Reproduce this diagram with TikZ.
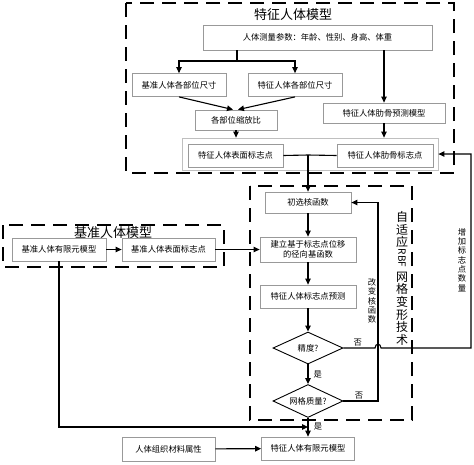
\documentclass[tikz,border=0pt]{standalone}
\usepackage{fontspec}
\setmainfont{Noto Sans CJK SC}
\usetikzlibrary{positioning, shapes.geometric, arrows.meta, calc}
\newcommand{\vtight}{\lineskiplimit=-20pt\relax}

\begin{document}
\begin{tikzpicture}[x=1pt, y=-1pt,
  box/.style={rectangle, draw=black!40, line width=0.8pt, minimum width=94, minimum height=23, inner sep=1pt, font=\fontsize{8.3}{10.5}\selectfont, align=center},
  dia/.style={diamond, draw, line width=0.9pt, aspect=2.1, inner sep=0pt, minimum width=70, minimum height=32, font=\fontsize{8.3}{10}\selectfont},
  arr/.style={-{Triangle[length=6pt, width=5.5pt]}, line width=1.1pt},
  ln/.style={line width=1.1pt},
  frame/.style={line width=1.3pt, dash pattern=on 14pt off 8pt},
  title/.style={font=\fontsize{13}{13}\selectfont},
  lbl/.style={font=\fontsize{8.3}{9}\selectfont, inner sep=1pt},
  vlbl/.style={font=\fontsize{8.3}{9.3}\selectfont\vtight, align=center, inner sep=0pt},
  rbft/.style={font=\fontsize{12}{12.6}\selectfont\vtight, align=center, inner sep=0pt},
]
  \useasboundingbox (0,0) rectangle (474,464);

  % feature body model
  \draw[frame] (126,3) rectangle (454,173);
  \node[title] (tfeat) at (293,15) {特征人体模型};
  \node[box, minimum width=229, minimum height=25] (params) at (317.5,37.5) {人体测量参数：年龄、性别、身高、体重};
  \node[box] (basedim) at (179,85) {基准人体各部位尺寸};
  \node[box] (featdim) at (295,85) {特征人体各部位尺寸};
  \node[box, minimum width=82, minimum height=20] (ratio) at (236,120) {各部位缩放比};
  \node[box, minimum width=122, minimum height=20] (ribpred) at (384,113) {特征人体肋骨预测模型};
  \node[draw=black!25, line width=0.8pt, minimum width=256, minimum height=32, inner sep=0pt] (grp) at (310,154) {};
  \node[box, minimum width=95] (surfland) at (235.5,155.5) {特征人体表面标志点};
  \node[box, minimum width=96] (ribland) at (385,155.5) {特征人体肋骨标志点};

  % base body model
  \draw[frame] (3,225) rectangle (224,267);
  \node[title, inner sep=0pt] (tbase) at (113,233) {基准人体模型};
  \node[box] (femref) at (59,249.5) {基准人体有限元模型};
  \node[box, minimum width=93] (surfref) at (168.5,249.5) {基准人体表面标志点};

  % adaptive RBF
  \draw[frame] (250,186) rectangle (412,420);
  \node[rbft] (trbfa) at (402,229.5) {自\\适\\应};
  \node[inner sep=0pt, font=\fontsize{10}{10}\selectfont] (trbfb) at (402,258) {\rotatebox{-90}{RBF}};
  \node[rbft] (trbfc) at (402,308.5) {网\\格\\变\\形\\技\\术};
  \node[box, minimum width=86, minimum height=21] (choose) at (308,202.5) {初选核函数};
  \node[box, minimum width=96, minimum height=25] (rbf) at (308,249.5) {建立基于标志点位移\\的径向基函数};
  \node[box, minimum width=96] (predict) at (308,296.5) {特征人体标志点预测};
  \node[dia] (acc) at (308,348) {精度?};
  \node[dia, minimum height=33] (mesh) at (308,401) {网格质量?};

  \node[box, minimum width=93] (femfeat) at (308,448.5) {特征人体有限元模型};
  \node[box, minimum width=93, minimum height=24] (material) at (168.5,449) {人体组织材料属性};

  \coordinate (split) at (237,61);
  \coordinate (jn) at (308,155);
  \coordinate (lp) at (378,401);
  \coordinate (hopa) at (375,348);
  \coordinate (hopb) at (381,348);
  \coordinate (rl) at (471,348);
  \coordinate (jb) at (308,427);

  \draw[ln] (params.south -| split) -- (split);
  \draw[arr] (split) -| (basedim.north);
  \draw[arr] (split) -| (featdim.north);
  \draw[arr] (basedim.south) -- ([xshift=-3pt]ratio.north);
  \draw[arr] (featdim.south) -- ([xshift=2pt]ratio.north);
  \draw[arr] (params.south -| ribpred) -- (ribpred.north);
  \draw[arr] (ratio.south) -- (ratio.south |- grp.north);
  \draw[arr] (ribpred.south) -- (ribpred.south |- grp.north);
  \draw[ln] (surfland.east) -- (jn);
  \draw[ln] (ribland.west) -- (jn);
  \draw[arr] (jn) -- (choose.north);

  \draw[arr] (femref) -- (surfref);
  \draw[arr] (surfref.east) -- (surfref.east -| rbf.west);
  \draw[arr] (femref.south) |- (jb);

  \draw[arr] (choose) -- (rbf);
  \draw[arr] (rbf) -- (predict);
  \draw[arr] (predict) -- (acc);
  \draw[arr] (acc) -- node[lbl, right=4pt, pos=0.5] {是} (mesh);
  \draw[arr] (mesh) -- (femfeat);
  \node[lbl] (yes2) at (318,427) {是};
  \draw[arr] (material) -- (femfeat);

  \draw[arr] (mesh.east) -- node[lbl, above, pos=0.45] {否} (lp) |- (choose.east);
  \node[vlbl] (chg) at (372,301) {改\\变\\核\\函\\数};
  \draw[arr] (acc.east) -- node[lbl, above, pos=0.45] {否} (hopa)
    .. controls +(0,-5) and +(0,-5) .. (hopb) -- (rl) |- (grp.east);
  \node[vlbl] (addn) at (462,260) {增\\加\\标\\志\\点\\数\\量};
\end{tikzpicture}
\end{document}
